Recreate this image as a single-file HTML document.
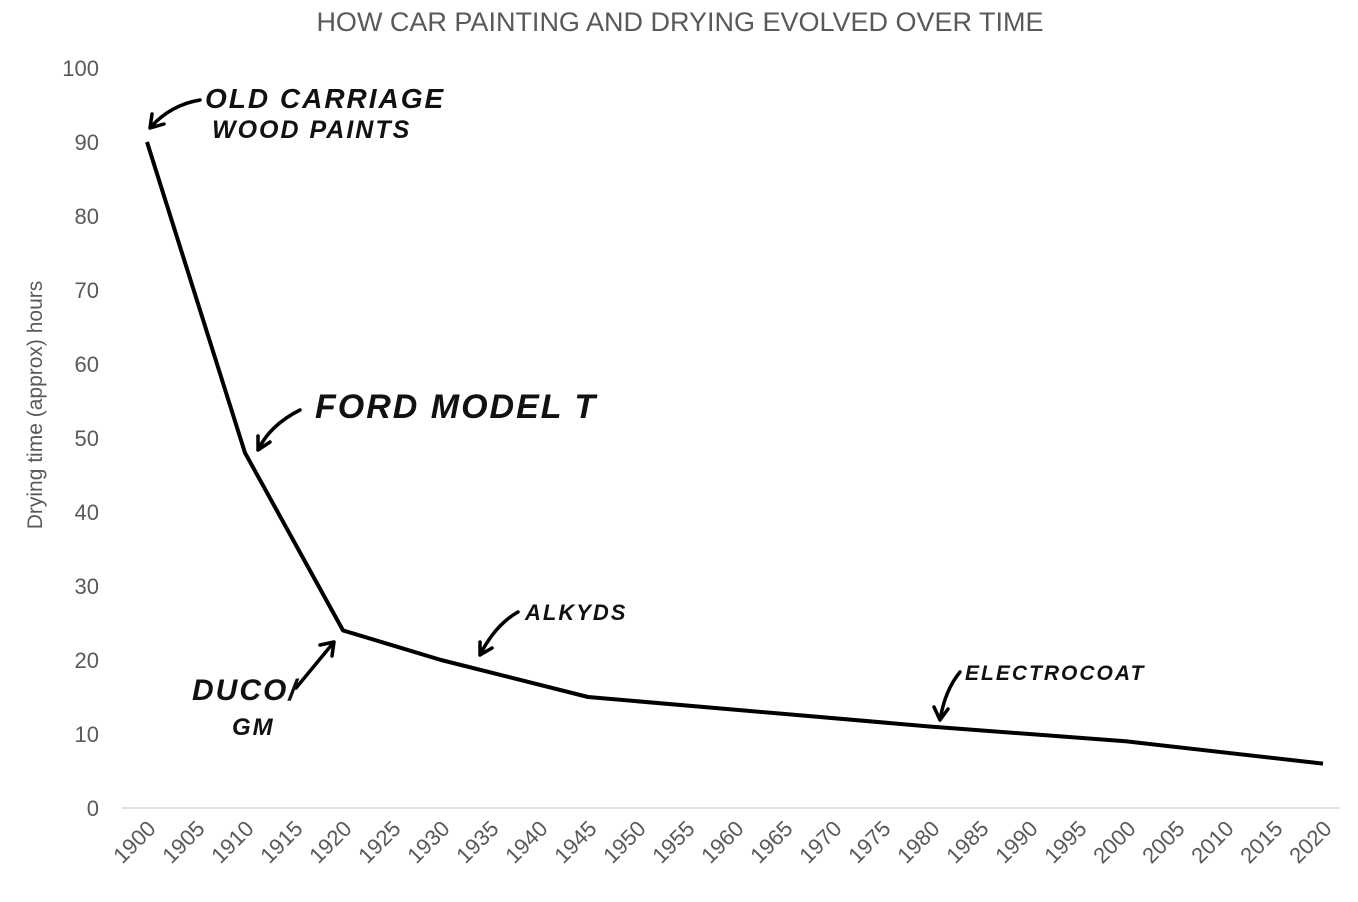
<!DOCTYPE html>
<html><head><meta charset="utf-8"><style>
body{margin:0;background:#fff;width:1358px;height:902px;overflow:hidden}
svg{display:block}
.t{font-family:"Liberation Sans",sans-serif;fill:#595959}
.h{font-family:"Liberation Sans",sans-serif;fill:#111;font-style:italic;letter-spacing:2px}
</style></head><body>
<svg id="chart" width="1358" height="902" viewBox="0 0 1358 902">
<text class="t" x="680" y="31" font-size="27" text-anchor="middle">HOW CAR PAINTING AND DRYING EVOLVED OVER TIME</text>
<text class="t" transform="translate(42,405) rotate(-90)" font-size="21" text-anchor="middle">Drying time (approx)  hours</text>
<g id="yticks"></g><g id="xticks"></g>
<line x1="122" y1="808" x2="1340" y2="808" stroke="#d9d9d9" stroke-width="1.5"/>
<path id="line" fill="none" stroke="#000" stroke-width="4" stroke-linejoin="round"/>
<g stroke="#000" stroke-width="3.5" fill="none" stroke-linecap="round">
<path d="M200 100 Q170 105 150 128 M150 128 L152 114 M150 128 L164 124"/>
<path d="M300 410 Q270 425 258 450 M258 450 L258 436 M258 450 L270 442"/>
<path d="M296 688 L334 642 M334 642 L320 645 M334 642 L332 656"/>
<path d="M518 612 Q495 625 480 655 M480 655 L480 642 M480 655 L492 648"/>
<path d="M960 672 Q945 690 940 720 M940 720 L934 707 M940 720 L948 709"/>
</g>
<text class="h" x="205" y="108" font-size="28" font-weight="bold">OLD CARRIAGE</text>
<text class="h" x="212" y="138" font-size="25" font-weight="bold">WOOD PAINTS</text>
<text class="h" x="315" y="418" font-size="34" font-weight="bold">FORD MODEL T</text>
<text class="h" x="525" y="620" font-size="22" font-weight="bold">ALKYDS</text>
<text class="h" x="192" y="700" font-size="30" font-weight="bold">DUCO/</text>
<text class="h" x="232" y="735" font-size="24" font-weight="bold">GM</text>
<text class="h" x="965" y="680" font-size="21" font-weight="bold">ELECTROCOAT</text>
</svg>
<script>
const yearLabels=["1900","1905","1910","1915","1920","1925","1930","1935","1940","1945","1950","1955","1960","1965","1970","1975","1980","1985","1990","1995","2000","2005","2010","2015","2020"];
const yTicks=[0,10,20,30,40,50,60,70,80,90,100];
const pointYears=[1900,1910,1920,1930,1945,1980,2000,2020];
const pointValues=[90,48,24,20,15,11,9,6];
const NS="http://www.w3.org/2000/svg";
function xs(yr){return 147+(yr-1900)*(1323-147)/120;}
function ys(v){return 808-v*7.4;}
const yg=document.getElementById('yticks');
yTicks.forEach(v=>{const t=document.createElementNS(NS,'text');
t.setAttribute('class','t');t.setAttribute('x',99);t.setAttribute('y',ys(v)+8);
t.setAttribute('font-size','22');t.setAttribute('text-anchor','end');t.textContent=v;


yg.appendChild(t);});
const xg=document.getElementById('xticks');
yearLabels.forEach(l=>{const x=xs(+l);const t=document.createElementNS(NS,'text');
t.setAttribute('class','t');t.setAttribute('font-size','22');t.setAttribute('text-anchor','end');
t.setAttribute('transform','translate('+(x+10)+',830) rotate(-45)');t.textContent=l;


xg.appendChild(t);});
document.getElementById('line').setAttribute('d',pointYears.map((y,i)=>(i?'L':'M')+xs(y)+' '+ys(pointValues[i])).join(' '));
</script>
</body></html>
